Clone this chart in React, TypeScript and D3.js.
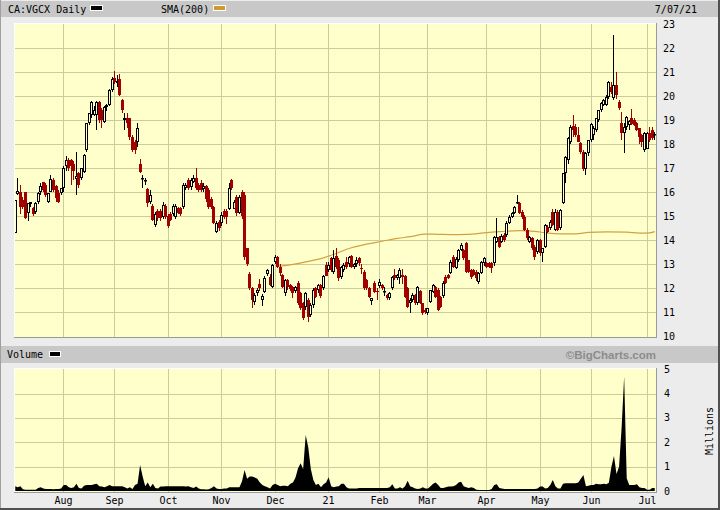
import React from "react";
import * as d3 from "d3";

// Daily bars: [open, high, low, close]
const priceBars: [number, number, number, number][] = [
  [14.32,15.7,14.3,15.68],[15.95,16.58,15.9,16.05],[16.0,16.3,15.1,15.4],[15.7,15.8,15.3,15.4],[16.0,16.0,14.9,14.95],
  [15.13,15.55,14.8,15.54],[15.5,15.6,15.4,15.58],[15.33,15.4,15.0,15.1],[15.2,15.6,15.1,15.54],[15.6,16.0,15.5,15.99],
  [16.0,16.4,15.9,16.26],[16.42,16.45,16.0,16.1],[16.3,16.4,15.8,15.9],[15.58,15.99,15.55,15.96],[16.03,16.72,16.0,16.54],
  [16.51,16.6,16.0,16.1],[16.26,16.3,15.6,15.75],[15.99,16.1,15.55,15.61],[15.96,16.2,15.9,16.17],[16.2,17.1,16.0,17.0],
  [17.1,17.5,16.9,17.35],[17.35,17.45,16.9,17.0],[17.35,17.4,16.3,17.1],[17.2,17.3,16.5,16.9],[16.54,17.7,15.89,16.68],
  [16.79,16.85,16.2,16.31],[16.58,16.9,16.5,17.0],[16.86,17.6,16.8,17.56],[17.76,18.9,17.7,18.88],[18.9,19.3,18.8,19.29],
  [19.22,19.8,19.1,19.78],[19.22,19.6,19.2,19.43],[19.22,19.8,18.6,19.78],[19.78,19.8,18.9,19.01],[19.43,19.5,18.7,19.01],
  [18.92,19.6,18.9,19.57],[19.57,19.7,19.4,19.64],[19.64,20.3,19.6,20.26],[20.26,20.8,20.2,20.72],[20.75,21.06,20.5,20.61],
  [20.54,20.9,20.4,20.65],[20.72,20.93,20.0,20.06],[19.85,19.9,19.3,19.43],[19.01,19.3,18.6,19.08],[19.08,19.3,18.7,18.88],
  [19.08,19.1,18.2,18.32],[18.32,18.4,17.7,17.76],[18.11,18.2,17.6,17.76],[18.11,18.9,17.9,18.67],[17.18,17.4,16.8,16.86],
  [16.55,16.72,16.2,16.58],[16.5,16.6,16.3,16.51],[16.13,16.2,15.4,15.54],[15.61,16.1,15.5,15.89],[15.44,15.5,14.8,14.85],
  [14.64,15.2,14.55,15.1],[15.24,15.3,14.8,14.92],[15.24,15.3,14.8,14.92],[14.99,15.6,14.9,15.47],[15.44,15.5,14.9,14.99],
  [15.03,15.1,14.5,14.61],[15.1,15.2,14.8,14.85],[15.1,15.5,15.0,15.44],[14.99,15.5,14.9,15.44],[15.33,15.4,15.1,15.15],
  [15.33,15.4,15.0,15.1],[15.4,16.4,15.3,16.31],[16.17,16.4,16.1,16.31],[16.51,16.6,16.1,16.17],[16.24,16.6,16.1,16.51],
  [16.44,16.72,16.4,16.58],[16.58,17.0,16.1,16.17],[16.31,16.4,16.0,16.1],[16.37,16.5,16.0,16.1],[16.13,16.4,16.0,16.26],
  [16.26,16.3,15.6,15.71],[16.1,16.2,15.3,15.4],[15.71,15.8,15.3,15.4],[15.4,15.45,14.7,14.71],[14.33,14.8,14.3,14.71],
  [14.78,14.85,14.4,14.5],[14.71,15.2,14.6,15.06],[15.24,15.3,14.9,14.99],[15.24,15.3,14.7,14.98],[15.3,16.4,15.25,16.17],
  [16.5,16.55,16.1,16.17],[15.3,15.7,15.3,15.61],[15.82,15.9,15.0,15.13],[15.13,15.9,15.1,15.82],[16.0,16.1,14.9,15.0],
  [15.9,16.0,13.2,13.3],[13.67,13.7,12.95,13.0],[12.6,12.7,11.95,12.0],[12.0,12.05,11.17,11.51],[11.42,11.8,11.3,11.72],
  [11.79,12.0,11.7,11.93],[12.18,12.4,11.9,12.0],[11.51,11.75,11.28,11.68],[11.86,12.5,11.8,12.42],[12.6,12.8,12.5,12.76],
  [12.49,12.6,12.1,12.14],[12.07,13.0,12.0,12.97],[13.11,13.4,13.0,13.29],[13.29,13.35,12.85,12.9],[12.9,13.0,12.5,12.63],
  [12.56,12.6,12.0,12.07],[11.79,12.4,11.7,12.35],[12.35,12.4,11.95,12.04],[12.14,12.2,11.9,11.97],[12.07,12.1,11.6,11.82],
  [11.9,12.1,11.8,12.07],[12.21,12.3,11.3,11.38],[11.79,11.85,11.1,11.17],[11.38,11.45,10.7,10.75],[11.21,11.85,11.1,11.79],
  [11.51,11.6,10.6,10.82],[10.9,11.4,10.8,11.3],[11.31,12.0,11.2,11.93],[12.0,12.05,11.6,11.65],[11.93,12.2,11.8,12.14],
  [12.14,12.2,11.6,11.68],[12.0,12.55,11.95,12.51],[12.97,13.1,12.5,12.51],[12.76,13.1,12.7,12.97],[13.25,13.3,12.7,12.76],
  [12.69,13.6,12.6,13.25],[13.35,13.7,12.8,12.9],[13.18,13.25,12.3,12.42],[12.49,12.95,12.4,12.9],[12.76,13.05,12.7,12.97],
  [13.11,13.3,12.8,12.9],[13.0,13.35,12.9,13.29],[13.35,13.4,12.85,12.9],[12.9,13.05,12.8,13.0],[13.0,13.3,12.9,13.18],
  [13.25,13.3,12.95,13.04],[12.85,13.0,12.6,12.83],[12.69,12.75,11.95,12.0],[12.35,12.4,11.95,12.0],[12.0,12.05,11.6,11.65],
  [11.47,11.6,11.3,11.58],[12.21,12.3,11.8,11.86],[11.88,12.0,11.5,11.86],[12.11,12.4,12.0,12.28],[12.14,12.2,11.95,12.0],
  [11.9,12.05,11.7,11.9],[11.72,11.75,11.5,11.58],[11.58,11.85,11.5,11.79],[12.0,12.5,11.95,12.49],[12.56,12.8,12.35,12.42],
  [12.42,12.6,12.35,12.56],[12.42,12.83,12.2,12.76],[12.55,12.8,12.2,12.49],[12.51,12.55,11.6,11.65],[12.0,12.05,11.2,11.24],
  [11.38,11.6,10.96,11.51],[11.51,11.8,11.45,11.72],[11.72,11.75,11.3,11.4],[11.38,12.1,11.3,12.07],[11.9,11.95,11.35,11.4],
  [11.38,11.4,10.9,10.96],[11.1,11.2,10.95,11.0],[10.99,11.2,10.9,11.17],[11.44,11.95,11.4,11.93],[11.86,12.2,11.8,12.14],
  [12.07,12.1,11.6,11.65],[11.93,12.0,11.05,11.1],[11.65,11.7,11.2,11.24],[11.68,12.3,11.6,12.24],[12.49,12.55,12.2,12.24],
  [12.56,12.6,12.4,12.42],[12.63,13.2,12.6,13.11],[13.32,13.4,12.85,12.9],[12.83,13.3,12.8,13.21],[13.18,13.65,13.1,13.6],
  [13.6,13.9,13.55,13.81],[13.6,13.65,13.2,13.25],[13.88,13.95,12.65,12.69],[13.18,13.2,12.65,12.69],[12.76,12.8,12.4,12.49],
  [12.76,12.8,12.5,12.56],[12.69,12.75,12.3,12.42],[12.28,12.7,12.2,12.63],[12.63,13.15,12.6,13.11],[13.04,13.3,12.95,13.25],
  [13.07,13.1,12.85,12.88],[13.07,13.1,12.85,12.88],[13.04,13.1,12.65,12.83],[13.04,14.2,12.95,14.15],[13.94,14.92,13.9,14.13],
  [14.13,14.2,13.7,13.74],[13.94,14.25,13.9,14.18],[14.22,14.3,13.95,14.01],[14.22,14.8,14.15,14.74],[14.74,15.05,14.7,14.99],
  [14.99,15.2,14.95,15.13],[15.13,15.45,15.1,15.4],[15.54,15.89,15.5,15.61],[15.54,15.6,15.1,15.13],[15.19,15.25,14.9,14.99],
  [14.99,15.05,14.4,14.43],[14.43,14.5,14.0,14.08],[13.94,14.2,13.9,14.13],[14.08,14.15,13.6,13.67],[13.74,13.8,13.2,13.32],
  [13.53,14.05,13.45,14.01],[14.01,14.05,13.35,13.46],[13.46,13.7,13.1,13.67],[13.74,14.7,13.7,14.64],[14.57,14.65,14.3,14.36],
  [14.5,14.85,14.45,14.78],[15.19,15.3,14.6,14.64],[14.43,15.3,14.4,15.19],[15.19,15.25,14.4,14.45],[14.5,15.3,14.45,15.26],
  [15.54,16.8,15.5,16.79],[16.79,17.5,16.38,17.49],[17.35,18.3,17.2,18.25],[18.11,18.8,18.0,18.74],[18.76,19.22,18.32,18.6],
  [18.74,18.85,18.3,18.39],[18.39,18.74,18.1,18.11],[18.04,18.1,17.6,17.69],[17.69,17.75,16.9,16.96],[16.96,17.7,16.72,17.65],
  [17.63,18.2,17.5,18.18],[18.18,18.9,18.1,18.83],[18.4,18.75,18.2,18.67],[18.6,19.1,18.5,19.08],[19.0,19.45,18.95,19.43],
  [19.43,19.75,19.35,19.71],[19.64,19.9,19.6,19.85],[19.64,20.05,19.6,19.99],[19.99,20.65,19.9,20.61],[20.4,20.6,20.1,20.19],
  [19.92,22.56,19.85,20.47],[20.47,21.03,19.9,20.06],[19.78,19.85,19.45,19.5],[18.88,19.36,18.18,18.46],[18.46,18.9,17.63,18.74],
  [18.74,19.2,18.6,19.15],[18.8,19.0,18.6,18.99],[19.08,19.46,18.8,18.83],[19.0,19.1,18.75,18.8],[18.88,18.95,18.55,18.6],
  [18.67,18.7,18.0,18.32],[18.39,18.45,17.9,18.11],[17.76,18.5,17.7,18.46],[17.82,18.5,17.8,18.46],[18.46,18.74,18.1,18.18],
  [18.6,18.74,18.2,18.25],[18.4,18.5,18.2,18.45]
];

// Daily volume, millions
const volumes: number[] = [
  0.2,0.15,0.2,0.07,0.05,0.05,0.05,0.05,0.05,0.12,
  0.15,0.1,0.08,0.08,0.08,0.07,0.08,0.08,0.1,0.25,
  0.25,0.15,0.12,0.15,0.3,0.12,0.1,0.22,0.25,0.25,
  0.25,0.28,0.3,0.2,0.18,0.15,0.2,0.25,0.2,0.2,
  0.2,0.2,0.2,0.15,0.1,0.15,0.08,0.25,0.3,1.07,
  0.6,0.2,0.35,0.15,0.3,0.12,0.1,0.18,0.18,0.2,
  0.2,0.2,0.2,0.2,0.2,0.2,0.2,0.18,0.2,0.15,
  0.12,0.18,0.1,0.07,0.07,0.06,0.07,0.12,0.2,0.1,
  0.08,0.08,0.1,0.1,0.15,0.15,0.15,0.15,0.15,0.4,
  0.86,0.5,0.6,0.6,0.55,0.5,0.35,0.25,0.2,0.15,
  0.1,0.25,0.3,0.25,0.2,0.22,0.22,0.2,0.3,0.35,
  0.55,0.93,1.14,0.9,2.3,1.8,0.9,0.45,0.25,0.3,
  0.15,0.28,0.35,0.56,0.2,0.15,0.18,0.2,0.3,0.3,
  0.15,0.1,0.1,0.1,0.1,0.12,0.12,0.12,0.12,0.12,
  0.12,0.12,0.12,0.12,0.12,0.12,0.12,0.15,0.28,0.1,
  0.1,0.15,0.1,0.2,0.42,0.2,0.15,0.1,0.08,0.1,
  0.15,0.1,0.1,0.2,0.3,0.35,0.25,0.12,0.12,0.15,
  0.18,0.18,0.2,0.25,0.35,0.38,0.2,0.15,0.12,0.15,
  0.12,0.05,0.04,0.04,0.04,0.04,0.04,0.08,0.25,0.28,
  0.12,0.1,0.08,0.08,0.08,0.08,0.08,0.08,0.08,0.08,
  0.08,0.08,0.08,0.08,0.08,0.1,0.18,0.18,0.1,0.12,
  0.25,0.45,0.2,0.1,0.1,0.3,0.32,0.32,0.32,0.32,
  0.32,0.35,0.5,0.66,0.2,0.22,0.25,0.25,0.3,0.28,
  0.28,0.3,0.28,0.34,1.0,1.44,0.7,1.0,2.6,4.7,
  0.52,0.25,0.25,0.25,0.28,0.15,0.12,0.12,0.05,0.05,0.12,0.12
];

// SMA(200): [bar index, value]
const smaPoints: [number, number][] = [
  [103,12.92],[109,13.0],[115,13.12],[121,13.27],[126,13.45],[131,13.66],[137,13.82],[144,13.96],
  [150,14.08],[155,14.15],[161,14.26],[166,14.25],[171,14.24],[177,14.25],[185,14.32],[190,14.36],
  [198,14.4],[204,14.37],[209,14.3],[214,14.27],[220,14.27],[225,14.33],[232,14.35],[240,14.34],
  [245,14.3],[249,14.31],[251,14.36]
];

const monthLabels = ["Aug","Sep","Oct","Nov","Dec","21","Feb","Mar","Apr","May","Jun","Jul"];
const monthStarts = [19,39,60,81,102,123,143,162,185,206,226,248];
const priceTicks = [10,11,12,13,14,15,16,17,18,19,20,21,22,23];
const volumeTicks = [0,1,2,3,4,5];

const FONT = "'DejaVu Sans Mono', 'Liberation Mono', monospace";
const RED = "#a00000";
const PLOT_BG = "#ffffcc";
const GRID = "#cccc99";

export default function App() {
  const W = 720, H = 510;
  const plotL = 14, plotR = 656;
  const pTop = 23, pBot = 337;
  const vTop = 368, vBot = 492;

  const x = d3.scaleBand<number>().domain(d3.range(priceBars.length)).range([plotL, plotR]);
  const bw = x.bandwidth();
  const cx = (i: number) => Math.floor((x(i) as number) + bw / 2) + 0.5;
  const y = d3.scaleLinear().domain([10, 23]).range([336.3, 24.3]);
  const yv = d3.scaleLinear().domain([0, 5]).range([491, 369.3]);

  const smaLine = d3.line<[number, number]>()
    .x(d => (x(d[0]) as number) + bw / 2)
    .y(d => y(d[1]))
    .curve(d3.curveMonotoneX);

  const volArea = d3.area<number>()
    .x((_, i) => (x(i) as number) + bw / 2)
    .y0(yv(0))
    .y1(d => yv(d))
    .curve(d3.curveLinear);

  const gy = (v: number) => Math.round(y(v)) + 0.5;
  const gyv = (v: number) => Math.round(yv(v)) + 0.5;

  return (
    <div style={{ position: "absolute", left: 0, top: 0 }}>
      <svg width={W} height={H} style={{ display: "block" }}>
        <rect x={0} y={0} width={W} height={H} fill="#ececec" />
        {/* frame */}
        <line x1={0.5} y1={0} x2={0.5} y2={H} stroke="#a0a0a0" />
        <line x1={718.5} y1={0} x2={718.5} y2={H} stroke="#505050" />
        <line x1={719.5} y1={0} x2={719.5} y2={H} stroke="#505050" />
        <line x1={0} y1={508.5} x2={W} y2={508.5} stroke="#505050" />
        <line x1={0} y1={509.5} x2={W} y2={509.5} stroke="#505050" />

        {/* top header */}
        <rect x={1} y={1} width={717} height={16} fill="#c8c8c8" />
        <text x={8} y={13} fontFamily={FONT} fontSize={10} fill="#000">CA:VGCX Daily</text>
        <rect x={90.5} y={5.5} width={12} height={5} fill="#000" stroke="#fff" />
        <text x={161} y={13} fontFamily={FONT} fontSize={10} fill="#000">SMA(200)</text>
        <rect x={213.5} y={5.5} width={12} height={5} fill="#cc9933" stroke="#fff" />
        <text x={697} y={13} fontFamily={FONT} fontSize={10} fill="#000" textAnchor="end">7/07/21</text>

        {/* price panel */}
        <rect x={plotL} y={pTop} width={plotR - plotL} height={pBot - pTop} fill={PLOT_BG} />
        {priceTicks.filter(t => t > 10 && t < 23).map(t => (
          <line key={"pg" + t} x1={plotL} x2={plotR} y1={gy(t)} y2={gy(t)} stroke={GRID} />
        ))}
        {monthStarts.map((m, k) => (
          <line key={"pm" + k} x1={cx(m)} x2={cx(m)} y1={pTop} y2={pBot} stroke={GRID} />
        ))}
        <path d={smaLine(smaPoints) || ""} fill="none" stroke="#d4a040" strokeWidth={1.2} />
        {priceBars.map((b, i) => {
          const [o, h, l, c] = b;
          const up = c >= o;
          const col = up ? "#000" : RED;
          const xc = cx(i);
          const top = Math.round(y(Math.max(o, c)));
          const bot = Math.round(y(Math.min(o, c)));
          return (
            <g key={"c" + i}>
              <line x1={xc} x2={xc} y1={Math.round(y(h))} y2={Math.round(y(l))} stroke={col} />
              {up ? (
                <rect x={xc - 1} y={top + 0.5} width={2} height={Math.max(bot - top - 1, 0.5)} fill={PLOT_BG} stroke="#000" strokeWidth={1} />
              ) : (
                <rect x={xc - 1.5} y={top} width={3} height={Math.max(bot - top, 1)} fill={RED} />
              )}
            </g>
          );
        })}
        <line x1={plotL} x2={plotR} y1={pTop + 0.5} y2={pTop + 0.5} stroke="#ffffff" />
        <line x1={plotL + 0.5} x2={plotL + 0.5} y1={pTop} y2={pBot} stroke="#ffffff" />
        <line x1={plotR + 0.5} x2={plotR + 0.5} y1={pTop} y2={pBot + 1} stroke="#9a9a9a" />
        <line x1={plotL} x2={plotR + 1} y1={pBot + 0.5} y2={pBot + 0.5} stroke="#9a9a9a" />
        {priceTicks.map(t => (
          <text key={"pt" + t} x={663} y={y(t) + 3.5} fontFamily={FONT} fontSize={10} fill="#000">{t}</text>
        ))}

        {/* volume header */}
        <rect x={1} y={346} width={717} height={17} fill="#c8c8c8" />
        <text x={7} y={358} fontFamily={FONT} fontSize={10} fill="#000">Volume</text>
        <rect x={49.5} y={351.5} width={11} height={5} fill="#000" stroke="#fff" />
        <text x={656} y={359} fontFamily="'Liberation Sans', Arial, sans-serif" fontWeight="bold" fontSize={11.5} fill="#8c8c8c" textAnchor="end">©BigCharts.com</text>

        {/* volume panel */}
        <rect x={plotL} y={vTop} width={plotR - plotL} height={vBot - vTop} fill={PLOT_BG} />
        {volumeTicks.filter(t => t > 0 && t < 5).map(t => (
          <line key={"vg" + t} x1={plotL} x2={plotR} y1={gyv(t)} y2={gyv(t)} stroke={GRID} />
        ))}
        {monthStarts.map((m, k) => (
          <line key={"vm" + k} x1={cx(m)} x2={cx(m)} y1={vTop} y2={vBot} stroke={GRID} />
        ))}
        <path d={volArea(volumes) || ""} fill="#000" />
        <line x1={plotL} x2={plotR} y1={vTop + 0.5} y2={vTop + 0.5} stroke="#ffffff" />
        <line x1={plotL + 0.5} x2={plotL + 0.5} y1={vTop} y2={vBot} stroke="#ffffff" />
        <line x1={plotR + 0.5} x2={plotR + 0.5} y1={vTop} y2={vBot + 1} stroke="#9a9a9a" />
        <line x1={plotL} x2={plotR + 1} y1={vBot + 0.5} y2={vBot + 0.5} stroke="#9a9a9a" />
        {volumeTicks.map(t => (
          <text key={"vt" + t} x={664} y={yv(t) + 3.5} fontFamily={FONT} fontSize={10} fill="#000">{t}</text>
        ))}
        <text transform="translate(713,431) rotate(-90)" fontFamily={FONT} fontSize={10} fill="#000" textAnchor="middle">Millions</text>

        {/* month labels */}
        {monthStarts.map((m, k) => (
          <text key={"ml" + k} x={cx(m)} y={504} fontFamily={FONT} fontSize={10} fill="#000" textAnchor="middle">{monthLabels[k]}</text>
        ))}
      </svg>
    </div>
  );
}
